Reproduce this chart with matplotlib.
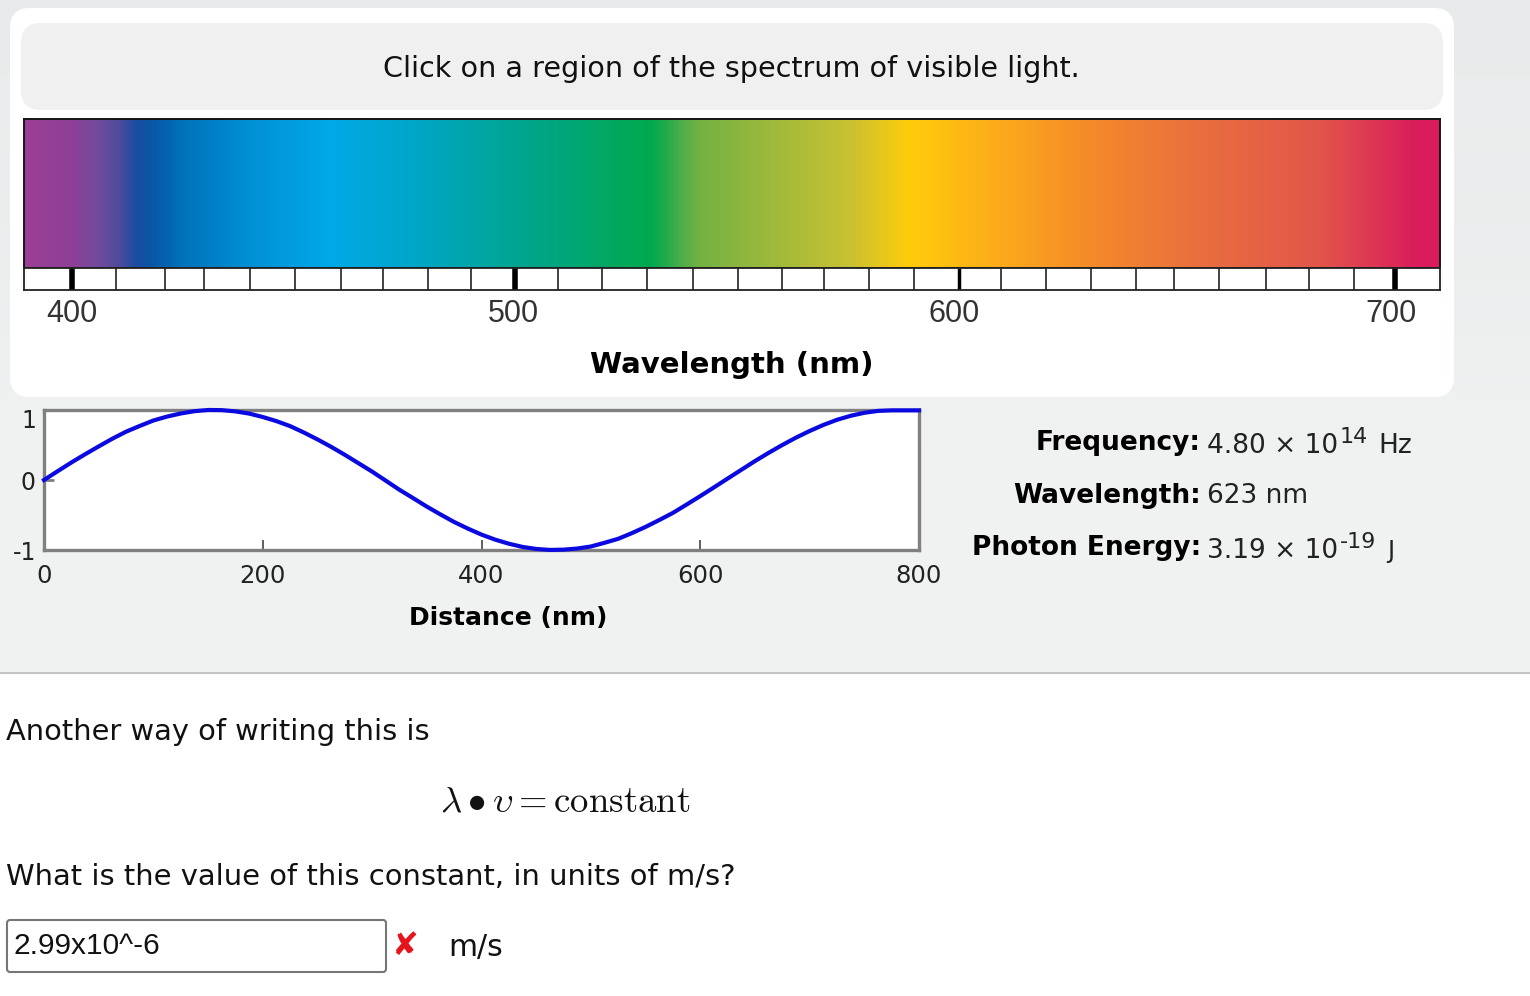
import numpy as np
import matplotlib
matplotlib.use("Agg")
import matplotlib.pyplot as plt
from matplotlib.colors import LinearSegmentedColormap
from matplotlib.patches import FancyBboxPatch, Rectangle

# spectrum colours (wavelength nm, colour)
spec_nm = [389.1, 399.5, 405, 410.4, 414.2, 417.6, 425, 440, 458.5, 479, 503.9, 525, 531, 534.5, 538, 542, 551.3,
           576.2, 589.8, 610, 630.4, 655.3, 682.5, 705.2, 710]
spec_colors = ["#9b3f95", "#8f3f97", "#754a9c", "#4f4a9c", "#1a4da0", "#0a55a6", "#0073bb", "#0090d4", "#00a9e8",
               "#00a6c4", "#00a58a", "#00a95a", "#00a94f", "#20ab4c", "#4cae49", "#72b244", "#8cb63f",
               "#c8c133", "#ffcc0b", "#fcab1b", "#f58b29", "#e96f3f", "#e2564a", "#da1c5c", "#da1c5c"]

tick_nm = [409.9, 421, 430, 440.4, 450.6, 461, 470.4, 480.6, 490.3, 510.2, 520.2, 530.2, 540.6, 550.8, 560.8,
           570.3, 580.7, 590.7, 610.6, 620.6, 631, 641, 649.8, 660, 670.5, 680.4, 690.4]
major_nm = [400, 500.3, 600.9, 699.9]
major_labels = ["400", "500", "600", "700"]
major_label_nm = [400, 499.9, 600, 699]

# wave
dist = [0, 12.5, 25, 37.5, 50, 62.5, 75, 87.5, 100, 112.5, 125, 137.5, 150, 162.5, 175, 187.5, 200, 212.5, 225,
        237.5, 250, 262.5, 275, 287.5, 300, 312.5, 325, 337.5, 350, 362.5, 375, 387.5, 400, 412.5, 425, 437.5,
        450, 462.5, 475, 487.5, 500, 512.5, 525, 537.5, 550, 562.5, 575, 587.5, 600, 612.5, 625, 637.5, 650,
        662.5, 675, 687.5, 700, 712.5, 725, 737.5, 750, 762.5, 775, 787.5, 800]
wave = [0.0, 0.126, 0.25, 0.367, 0.48, 0.59, 0.69, 0.772, 0.85, 0.906, 0.95, 0.983, 1.0, 0.998, 0.98, 0.949, 0.90,
        0.841, 0.77, 0.679, 0.58, 0.474, 0.36, 0.24, 0.12, -0.01, -0.14, -0.259, -0.38, -0.492, -0.60, -0.694,
        -0.78, -0.852, -0.91, -0.956, -0.985, -0.999, -0.995, -0.979, -0.95, -0.897, -0.84, -0.759, -0.67,
        -0.572, -0.47, -0.351, -0.23, -0.106, 0.02, 0.145, 0.27, 0.388, 0.50, 0.605, 0.70, 0.786, 0.86, 0.917,
        0.96, 0.987, 0.995, 0.995, 0.995]
dist_ticks = [0, 200, 400, 600, 800]

W, H = 1530, 996
fig = plt.figure(figsize=(W / 100, H / 100), dpi=100, facecolor="white")


def px_axes(x0, y0, x1, y1, **kw):
    return fig.add_axes([x0 / W, 1 - y1 / H, (x1 - x0) / W, (y1 - y0) / H], **kw)


# page background, in pixels
bg = px_axes(0, 0, W, H)
bg_cmap = LinearSegmentedColormap.from_list("bg", ["#e8eaeb", "#f0f1f1"])
bg.imshow(np.linspace(0, 1, 450).reshape(-1, 1), aspect="auto", cmap=bg_cmap, extent=[0, W, 450, 0], zorder=0)
bg.add_patch(Rectangle((0, 450), W, 223, fc="#f0f1f1", ec="none", zorder=0))
bg.set_xlim(0, W)
bg.set_ylim(H, 0)
bg.axis("off")
bg.plot([0, W], [673, 673], color="#c4c4c4", lw=1.5)
bg.add_patch(FancyBboxPatch((30, 28), 1404, 349, boxstyle="round,pad=20,rounding_size=20", fc="white", ec="none"))
bg.add_patch(FancyBboxPatch((41, 43), 1382, 47, boxstyle="round,pad=20,rounding_size=20", fc="#f0f0f0", ec="none"))

bg.text(731, 69, "Click on a region of the spectrum of visible light.", fontsize=20.6, ha="center", va="center", color="#111111")
bg.text(732, 365, "Wavelength (nm)", fontsize=21, fontweight="bold", ha="center", va="center", color="black")
bg.text(508, 618, "Distance (nm)", fontsize=18, fontweight="bold", ha="center", va="center", color="black")

# y labels of the wave plot sit off the ticks
bg.text(36, 421, "1", fontsize=17, ha="right", va="center", color="#222222")
bg.text(36, 483, "0", fontsize=17, ha="right", va="center", color="#222222")
bg.text(36, 553, "-1", fontsize=17, ha="right", va="center", color="#222222")

# readouts
for y, lab in zip([443, 496, 548], ["Frequency:", "Wavelength:", "Photon Energy:"]):
    bg.text(1201, y, lab, fontsize=19, fontweight="bold", ha="right", va="center", color="black")
val = dict(fontsize=19, va="center", ha="left", color="#222222")
sup = dict(fontsize=16, va="center", ha="left", color="#222222")
bg.text(1207, 446, "4.80 × 10", **val)
bg.text(1340, 437, "14", **sup)
bg.text(1378, 446, "Hz", **val)
bg.text(1207, 496, "623 nm", **val)
bg.text(1207, 551, "3.19 × 10", **val)
bg.text(1340, 542, "-19", **sup)
bg.text(1387, 551, "J", fontsize=17, va="center", ha="left", color="#222222")

# question text
bg.text(6, 732, "Another way of writing this is", fontsize=20.8, va="center", color="#111111")
bg.text(440, 801, r"$\lambda\bullet\upsilon=\mathrm{constant}$", fontsize=26.4, math_fontfamily="cm", va="center", color="#111111")
bg.text(6, 877, "What is the value of this constant, in units of m/s?", fontsize=20.9, va="center", color="#111111")
bg.add_patch(FancyBboxPatch((10, 923), 373, 46, boxstyle="round,pad=3,rounding_size=3", fc="white", ec="#767676", lw=1.5))
bg.text(14, 946, "2.99x10^-6", fontsize=21.5, family="Liberation Sans", va="center", color="#111111")
bg.text(404, 946, "✘", fontsize=23, ha="center", va="center", color="#e8141c")
bg.text(448, 947, "m/s", fontsize=21.5, va="center", color="#111111")

# spectrum
cmap_x = (np.array(spec_nm) - spec_nm[0]) / (spec_nm[-1] - spec_nm[0])
cmap = LinearSegmentedColormap.from_list("spec", list(zip(cmap_x, spec_colors)), N=1024)
ax_spec = px_axes(24, 119, 1440, 268)
ax_spec.imshow(np.linspace(0, 1, 1416).reshape(1, -1), aspect="auto", cmap=cmap,
               extent=[spec_nm[0], spec_nm[-1], 0, 1])
ax_spec.set_xticks([])
ax_spec.set_yticks([])
for s in ax_spec.spines.values():
    s.set_linewidth(1.4)
    s.set_color("#151515")

# scale strip under the spectrum
ax_scale = px_axes(24, 268, 1440, 290)
ax_scale.set_xlim(spec_nm[0], spec_nm[-1])
ax_scale.set_ylim(0, 1)
ax_scale.vlines(tick_nm, 0, 1, color="#222222", lw=1.2)
ax_scale.vlines(major_nm, 0, 1, color="black", lw=[4, 4, 2.5, 4])
ax_scale.set_xticks([])
ax_scale.set_yticks([])
for s in ax_scale.spines.values():
    s.set_linewidth(1.3)
    s.set_color("#222222")
for nm, lab in zip(major_label_nm, major_labels):
    ax_scale.text(nm, -1.08, lab, fontsize=22, family="Liberation Sans", ha="center", va="center", color="#333333")

# wave plot
ax = px_axes(44, 410, 919, 550)
ax.plot(dist, wave, color="#0a0ae0", lw=3, clip_on=False, zorder=5)
ax.set_xlim(0, 800)
ax.set_ylim(-1, 1)
ax.set_xticks(dist_ticks)
ax.set_xticklabels([str(d) for d in dist_ticks], fontsize=17.5, color="#222222")
ax.tick_params(axis="x", direction="in", length=7, width=1.2, color="#444444", pad=10)
ax.set_yticks([0])
ax.set_yticklabels([""])
ax.tick_params(axis="y", direction="in", length=7, width=2, color="#808080")
for s in ax.spines.values():
    s.set_linewidth(2.4)
    s.set_color("#808080")

fig.savefig("out.png", dpi=100)
